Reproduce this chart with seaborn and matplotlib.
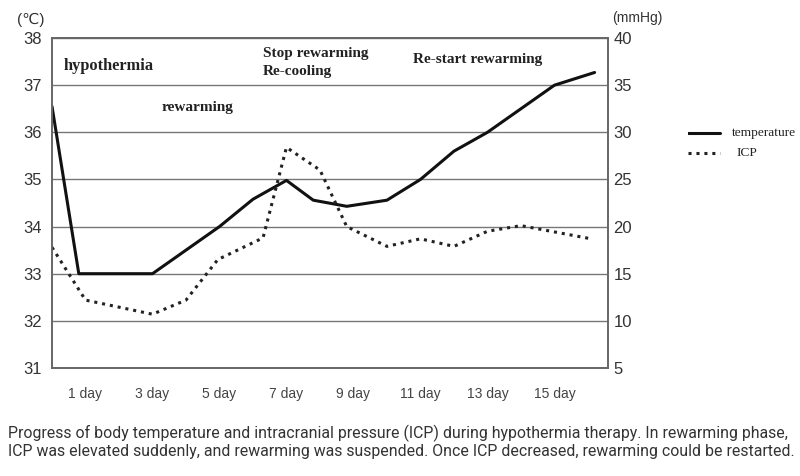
import numpy as np
import pandas as pd
import seaborn as sns
import matplotlib.pyplot as plt

# data
temp_days = [0, 0.8, 3, 4, 5, 6, 7, 7.8, 8.8, 10, 11, 12, 13, 14, 15, 16.2]
temp_vals = [36.55, 33.0, 33.0, 33.5, 34.0, 34.58, 34.98, 34.56, 34.43, 34.56,
             35.0, 35.6, 36.0, 36.5, 37.0, 37.27]

icp_days = [0, 1, 3, 4, 4.95, 6.3, 7, 8, 8.8, 10, 11, 12, 13, 14, 16.1]
icp_vals = [17.8, 12.2, 10.7, 12.2, 16.5, 18.8, 28.4, 26.0, 20.0, 17.9,
            18.7, 17.9, 19.5, 20.1, 18.7]

day_ticks = list(range(1, 17))
day_labels = [f'{d} day' if d % 2 == 1 else '' for d in day_ticks]
temp_ticks = list(range(31, 39))
icp_ticks = list(range(5, 41, 5))

caption = ('Progress of body temperature and intracranial pressure (ICP) during hypothermia therapy. '
           'In rewarming phase,\nICP was elevated suddenly, and rewarming was suspended. '
           'Once ICP decreased, rewarming could be restarted.')

sns.set_style('white')
plt.rcParams['font.family'] = ['Liberation Sans', 'DejaVu Sans']

temp_df = pd.DataFrame({'day': temp_days, 'value': temp_vals})
icp_df = pd.DataFrame({'day': icp_days, 'value': icp_vals})

fig = plt.figure(figsize=(8, 4.76), dpi=100)
ax = fig.add_axes([0.065, 0.227, 0.695, 0.693])
ax2 = ax.twinx()

sns.lineplot(data=temp_df, x='day', y='value', ax=ax, color='#111111', lw=2.2,
             sort=False, estimator=None)
sns.lineplot(data=icp_df, x='day', y='value', ax=ax2, color='#222222', lw=2.2,
             linestyle=(0, (1, 1.6)), sort=False, estimator=None)

ax.set_xlim(0, 16.6)
ax.set_ylim(31, 38)
ax2.set_ylim(5, 40)
ax.set_yticks(temp_ticks)
ax2.set_yticks(icp_ticks)
ax.set_xticks(day_ticks)
ax.set_xticklabels(day_labels)
ax.set_xlabel('')
ax.set_ylabel('')
ax2.set_ylabel('')

ax.grid(axis='y', color='#777777', lw=1)
ax.set_axisbelow(True)
for a in (ax, ax2):
    for s in a.spines.values():
        s.set_color('#666666')
        s.set_linewidth(1.2)

ax.tick_params(axis='x', direction='in', length=6, color='#555555', width=1,
               pad=14, labelsize=10, labelcolor='#444444')
ax.tick_params(axis='y', length=0, pad=7, labelsize=12, labelcolor='#333333')
ax2.tick_params(axis='y', length=0, pad=4, labelsize=12, labelcolor='#333333')

# unit labels
fig.text(17 / 800, 1 - 20 / 476, '(\u2103)', fontsize=11, color='#333333', va='center')
fig.text(612 / 800, 1 - 18 / 476, '(mmHg)', fontsize=10, color='#333333', va='center')

# phase notes
serif = dict(family='Liberation Serif', fontweight='bold', color='#222222', fontsize=11)
fig.text(64 / 800, 1 - 66 / 476, 'hypothermia', va='center', fontsize=11.8,
         family='Liberation Serif', fontweight='bold', color='#222222')
fig.text(162 / 800, 1 - 108 / 476, 'rewarming', va='center', **serif)
fig.text(263 / 800, 1 - 54 / 476, 'Stop rewarming', va='center', **serif)
fig.text(263 / 800, 1 - 72 / 476, 'Re-cooling', va='center', **serif)
fig.text(413 / 800, 1 - 60 / 476, 'Re-start rewarming', va='center', **serif)

# legend drawn by hand at the right
leg_ax = fig.add_axes([688 / 800, 1 - 165 / 476, 112 / 800, 45 / 476])
leg_ax.set_xlim(0, 1)
leg_ax.set_ylim(0, 1)
leg_ax.axis('off')
leg_ax.plot([0, 0.29], [0.71, 0.71], color='#111111', lw=2.2)
leg_ax.plot([0, 0.29], [0.27, 0.27], color='#222222', lw=2.2, linestyle=(0, (1, 1.6)))
leg_ax.text(0.39, 0.71, 'temperature', va='center', family='Liberation Serif',
            fontsize=9.6, color='#222222')
leg_ax.text(0.43, 0.27, 'ICP', va='center', family='Liberation Serif',
            fontsize=9.6, color='#222222')

fig.text(8 / 800, 1 - 442 / 476, caption, family='Roboto', fontsize=11.4,
         color='#333333', va='center', linespacing=1.2)

fig.savefig('out.png', dpi=100)
